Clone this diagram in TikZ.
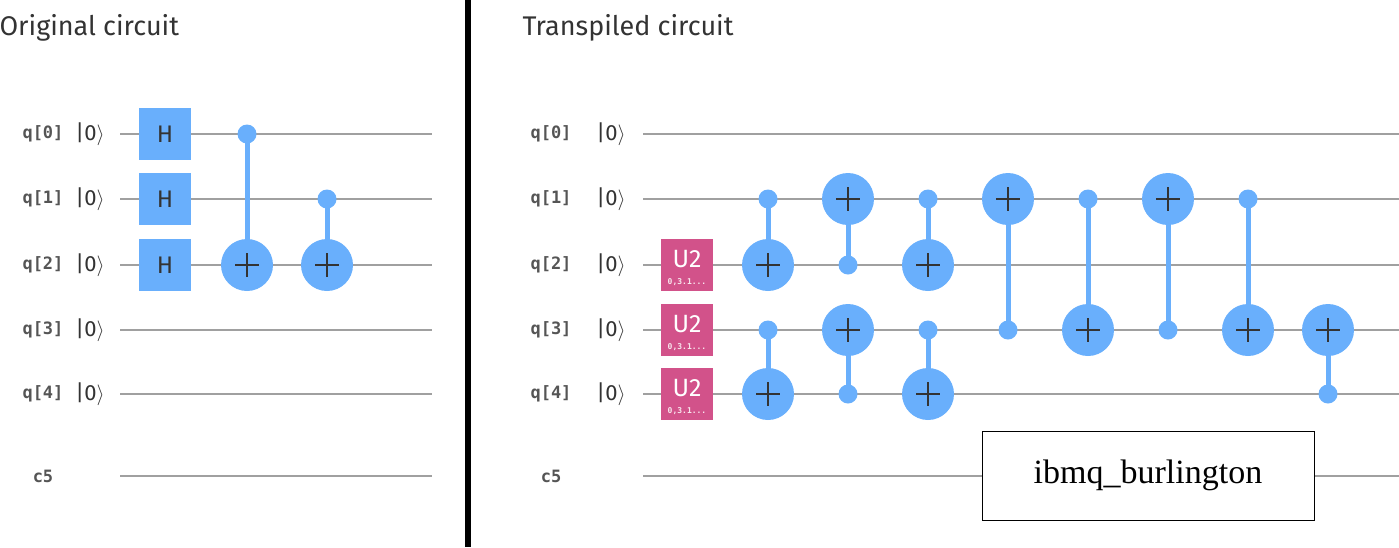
\documentclass[tikz,border=0pt]{standalone}
\usepackage{fontspec}
\setmainfont{Liberation Serif}
\setsansfont{Fira Sans}
\setmonofont{DejaVu Sans Mono}
\definecolor{qblue}{HTML}{69AFFC}
\definecolor{qpink}{HTML}{D2528A}
\definecolor{wire}{HTML}{A0A0A0}
\definecolor{lbl}{HTML}{555555}
\tikzset{
 wireln/.style={wire,line width=1.6pt},
 lab/.style={font=\ttfamily\bfseries\fontsize{17}{17}\selectfont,text=lbl,anchor=center},
 ket/.style={font=\sffamily\fontsize{22}{22}\selectfont,text=lbl!60!black},
 hgate/.style={fill=qblue,minimum size=52pt,inner sep=0,font=\sffamily\fontsize{24}{24}\selectfont,text=black!80},
 ugate/.style={fill=qpink,minimum size=52pt,inner sep=0},
 targ/.style={circle,fill=qblue,minimum size=52pt,inner sep=0},
 ctrl/.style={circle,fill=qblue,minimum size=19pt,inner sep=0},
 link/.style={qblue,line width=5pt},
 plus/.style={line width=2pt,black!80},
}
\newcommand{\kt}{|0$\rangle$}
\newcommand{\tg}[3]{\node[targ] (#1) at (#2,#3) {};\draw[plus] ($(#1)+(-12,0)$)--($(#1)+(12,0)$) ($(#1)+(0,-12)$)--($(#1)+(0,12)$);}
\usetikzlibrary{calc}
\begin{document}
\begin{tikzpicture}[x=1pt,y=-1pt]
\useasboundingbox (0,0) rectangle (1399,547);
\node[font=\sffamily\fontsize{27}{27}\selectfont,text=black!80,anchor=west] (t1) at (-4,28) {Original circuit};
\node[font=\sffamily\fontsize{27}{27}\selectfont,text=black!80,anchor=west] (t2) at (519,28) {Transpiled circuit};
\draw[line width=6pt] (468,0) -- (468,547);
\foreach \i/\y in {0/134,1/199,2/265,3/330,4/394}{
 \node[lab] (lq\i) at (43,\y) {q[\i]};
 \node[ket] (lk\i) at (90,\y) {\kt};
 \draw[wireln] (120,\y) -- (432,\y);
 \node[lab] (rq\i) at (551,\y) {q[\i]};
 \node[ket] (rk\i) at (611,\y) {\kt};
 \draw[wireln] (643,\y) -- (1399,\y);
}
\node[lab] (lc5) at (43,476) {c5};
\draw[wireln] (120,476) -- (432,476);
\node[lab] (rc5) at (551,476) {c5};
\draw[wireln] (643,476) -- (1399,476);
\foreach \y/\n in {134/a,199/b,265/c}{\node[hgate] (h\n) at (165,\y) {H};}
\foreach \y/\n in {265/a,330/b,394/c}{\node[ugate] (u\n) at (687,\y) {};
 \node[text=white,font=\sffamily\fontsize{25}{25}\selectfont] (ut\n) at (687,\y-6) {U2};
 \node[text=white!85!qpink,font=\ttfamily\bfseries\fontsize{8}{8}\selectfont] (us\n) at (687,\y+17) {0,3.1...};}
\newcommand{\cx}[4]{\draw[link] (#1,#2) -- (#1,#3);\node[ctrl] (c#4) at (#1,#2) {};\tg{t#4}{#1}{#3}}
\cx{247}{134}{265}{l1}
\cx{327}{199}{265}{l2}
\cx{768}{199}{265}{r1}
\cx{768}{330}{394}{r2}
\cx{848}{265}{199}{r3}
\cx{848}{394}{330}{r4}
\cx{928}{199}{265}{r5}
\cx{928}{330}{394}{r6}
\cx{1008}{330}{199}{r7}
\cx{1088}{199}{330}{r8}
\cx{1168}{330}{199}{r9}
\cx{1248}{199}{330}{r10}
\cx{1328}{394}{330}{r11}
\node[draw,fill=white,line width=1pt,minimum width=332pt,minimum height=89pt,font=\fontsize{34}{34}\selectfont] (ib) at (1148,475.5) {ibmq\_burlington};
\end{tikzpicture}
\end{document}
